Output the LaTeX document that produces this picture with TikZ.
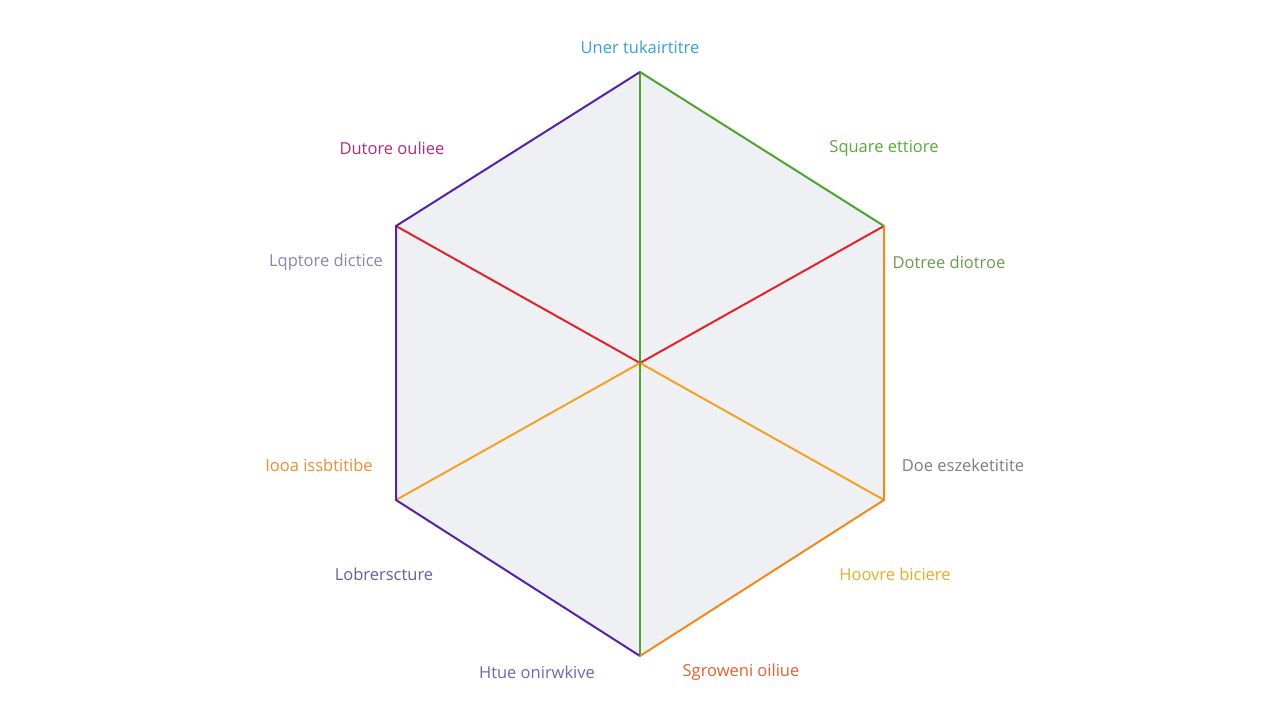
\documentclass[tikz,border=0pt]{standalone}
\usepackage{fontspec}
\setmainfont{Open Sans}
\definecolor{cpurp}{HTML}{5522A8}
\definecolor{cgreen}{HTML}{4EA52E}
\definecolor{cred}{HTML}{E0242A}
\definecolor{corange}{HTML}{F08A1C}
\definecolor{cyorange}{HTML}{F2A324}
\definecolor{cfill}{HTML}{EFF0F4}
\definecolor{lblue}{HTML}{3A9ED8}
\definecolor{lmag}{HTML}{B02E78}
\definecolor{lgreen}{HTML}{5AAA3C}
\definecolor{lgpurp}{HTML}{8C84AA}
\definecolor{lggreen}{HTML}{6C9A52}
\definecolor{lorange}{HTML}{EA8E30}
\definecolor{lgray}{HTML}{7E7E7E}
\definecolor{lpurp}{HTML}{6A5CA6}
\definecolor{lyellow}{HTML}{E8AE22}
\definecolor{lpurp2}{HTML}{7464B2}
\definecolor{lred}{HTML}{E8602E}
\tikzset{
  lbl/.style={font=\fontsize{16.5}{18}\selectfont, inner sep=0pt},
  edge/.style={line width=2pt, line cap=round}
}
\begin{document}
\begin{tikzpicture}[x=1pt,y=-1pt]
\useasboundingbox (0,0) rectangle (1280,720);
\fill[white] (0,0) rectangle (1280,720);
\coordinate (T) at (640,72);
\coordinate (UR) at (884,226);
\coordinate (LR) at (884,500);
\coordinate (B) at (640,656);
\coordinate (LL) at (396,500);
\coordinate (UL) at (396,226);
\coordinate (C) at (640,363);
\fill[cfill] (T) -- (UR) -- (LR) -- (B) -- (LL) -- (UL) -- cycle;
\draw[edge, cred] (UL) -- (C) -- (UR);
\draw[edge, cyorange] (LL) -- (C) -- (LR);
\draw[edge, cgreen] (T) -- (B);
\draw[edge, cpurp] (T) -- (UL) -- (LL) -- (B);
\draw[edge, cgreen] (T) -- (UR);
\draw[edge, corange] (UR) -- (LR) -- (B);
\node[lbl, text=lblue] (l1) at (640,47) {Uner tukairtitre};
\node[lbl, text=lmag] (l2) at (392,148) {Dutore ouliee};
\node[lbl, text=lgreen] (l3) at (884,148) {Square ettiore};
\node[lbl, text=lgpurp] (l4) at (326,262) {Lqptore dictice};
\node[lbl, text=lggreen] (l5) at (949,262) {Dotree diotroe};
\node[lbl, text=lorange] (l6) at (319,465) {Iooa issbtitibe};
\node[lbl, text=lgray] (l7) at (963,465) {Doe eszeketitite};
\node[lbl, text=lpurp] (l8) at (384,574) {Lobrerscture};
\node[lbl, text=lyellow] (l9) at (895,574) {Hoovre biciere};
\node[lbl, text=lpurp2] (l10) at (537,672) {Htue onirwkive};
\node[lbl, text=lred] (l11) at (741,672) {Sgroweni oiliue};
\end{tikzpicture}
\end{document}
